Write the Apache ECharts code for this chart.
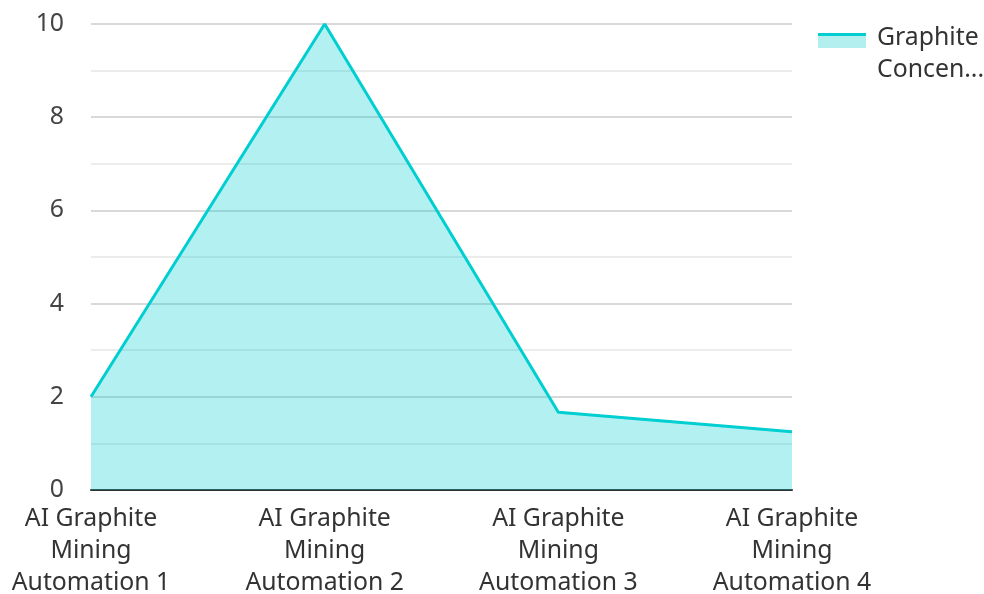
<!DOCTYPE html>
<html>
<head>
<meta charset="utf-8">
<script src="https://cdn.jsdelivr.net/npm/echarts@6/dist/echarts.min.js"></script>
<style>
  html, body { margin: 0; padding: 0; background: #fff; }
  #chart { width: 984px; height: 594px; }
</style>
</head>
<body>
<div id="chart"></div>
<script>
const categories = [
  'AI Graphite Mining Automation 1',
  'AI Graphite Mining Automation 2',
  'AI Graphite Mining Automation 3',
  'AI Graphite Mining Automation 4'
];
const seriesName = 'Graphite Concentration (%)';
const values = [2, 10, 1.67, 1.25];
const yTicks = [0, 2, 4, 6, 8, 10];

const FONT = 'Noto Sans';
const FONT_SIZE = 24.8;
const LINE = '#00CED1';
const FILL = 'rgba(0,206,209,0.3)';
const chart = echarts.init(document.getElementById('chart'), null, { renderer: 'canvas' });

// legend swatch: a solid stroke on top of the translucent fill
const legendSwatch = new echarts.graphic.LinearGradient(0, 0, 0, 1, [
  { offset: 0, color: LINE },
  { offset: 0.22, color: LINE },
  { offset: 0.22, color: '#b2efee' },
  { offset: 1, color: '#b2efee' }
]);

chart.setOption({
  animation: false,
  textStyle: { fontFamily: FONT },
  grid: { left: 91, right: 192, top: 24, bottom: 104, outerBoundsMode: 'none', containLabel: false },
  legend: {
    orient: 'vertical',
    left: 818,
    top: -5,
    padding: 0,
    icon: 'rect',
    itemWidth: 48,
    itemHeight: 15,
    itemStyle: { color: legendSwatch, borderWidth: 0 },
    lineStyle: { width: 0 },
    // a short spacer line on top so the swatch sits beside the first text line
    formatter: name => {
      const i = name.indexOf(' ');
      return '{pad| }\n{t|' + name.slice(0, i) + '}\n{t|' + name.slice(i + 1) + '}';
    },
    textStyle: {
      fontFamily: FONT,
      fontSize: FONT_SIZE,
      color: '#333',
      padding: [0, 0, 0, 6],
      width: 112,
      overflow: 'truncate',
      ellipsis: '...',
      rich: {
        pad: { fontSize: 4, lineHeight: 27, height: 27 },
        t: { fontFamily: FONT, fontSize: FONT_SIZE, color: '#333', lineHeight: 32 }
      }
    },
    data: [seriesName]
  },
  xAxis: {
    type: 'category',
    data: categories,
    boundaryGap: false,
    axisLine: { show: true, lineStyle: { color: '#333', width: 2 } },
    axisTick: { show: false },
    axisLabel: {
      fontFamily: FONT,
      fontSize: FONT_SIZE,
      color: '#333',
      lineHeight: 32,
      margin: 13,
      formatter: v => v.replace('AI Graphite Mining Automation', 'AI Graphite\nMining\nAutomation')
    },
    splitLine: { show: false }
  },
  yAxis: {
    type: 'value',
    min: yTicks[0],
    max: yTicks[yTicks.length - 1],
    interval: 2,
    axisLine: { show: false },
    axisTick: { show: false },
    axisLabel: { fontFamily: FONT, fontSize: FONT_SIZE, color: '#444', margin: 27 },
    splitLine: { show: true, lineStyle: { color: '#cccccc', width: 1.5 } },
    minorTick: { show: false, splitNumber: 2 },
    minorSplitLine: { show: true, lineStyle: { color: '#e6e6e6', width: 1.5 } }
  },
  series: [{
    name: seriesName,
    type: 'line',
    data: values,
    symbol: 'none',
    lineStyle: { color: LINE, width: 3 },
    itemStyle: { color: LINE },
    areaStyle: { color: FILL, opacity: 1 }
  }]
});
</script>
</body>
</html>
